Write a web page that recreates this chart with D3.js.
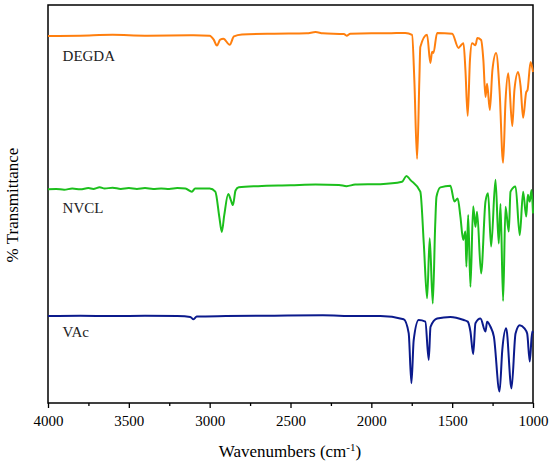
<!DOCTYPE html>
<html>
<head>
<meta charset="utf-8">
<script src="https://cdn.jsdelivr.net/npm/d3@7"></script>
<style>
  body { margin: 0; background: #fff; }
  text { font-family: "Liberation Serif", "DejaVu Serif", serif; }
</style>
</head>
<body>
<div id="chart"></div>
<script>
var margin = {top: 5, right: 17, bottom: 68, left: 48},
    width = 550 - margin.left - margin.right,
    height = 471 - margin.top - margin.bottom;

// spectra: [wavenumber, transmittance (arbitrary, offset)]
var degda = [[4000,92.9],[3800,93.0],[3600,93.2],[3400,93.0],[3100,93.1],[3000,93.0],[2975,92.0],[2955,90.5],[2935,92.0],[2915,92.2],[2876,90.7],[2850,92.8],[2800,93.3],[2600,93.5],[2400,93.6],[2345,93.9],[2300,93.6],[2170,93.4],[2153,93.0],[2130,93.5],[2000,93.6],[1900,93.6],[1790,93.7],[1748,93.2],[1734,81.8],[1717,61.8],[1703,81.8],[1697,90.1],[1655,93.2],[1635,86.1],[1624,88.9],[1616,88.6],[1593,93.7],[1500,93.5],[1461,89.9],[1449,90.4],[1430,91.1],[1418,84.3],[1404,72.7],[1390,86.8],[1377,91.1],[1356,90.6],[1344,92.4],[1321,91.9],[1307,86.8],[1294,77.5],[1284,80.8],[1267,74.2],[1251,84.3],[1228,88.6],[1207,79.2],[1185,60.8],[1170,76.5],[1153,83.5],[1128,70.1],[1115,79.2],[1092,83.8],[1077,80.3],[1061,72.2],[1042,78.7],[1034,79.2],[1015,86.3],[1000,83.8]];

var nvcl = [[4000,54.1],[3950,54.2],[3900,54.0],[3850,54.3],[3800,54.1],[3750,54.4],[3720,54.2],[3680,54.6],[3650,54.3],[3600,54.5],[3550,54.2],[3500,54.4],[3450,54.2],[3400,54.4],[3350,54.2],[3300,54.3],[3250,54.2],[3200,54.4],[3150,54.3],[3110,53.5],[3090,54.3],[3000,54.3],[2965,53.5],[2940,47.0],[2925,43.3],[2910,47.5],[2885,52.9],[2870,51.5],[2856,50.1],[2840,53.8],[2820,54.6],[2700,54.9],[2500,55.1],[2345,55.3],[2200,55.2],[2153,54.9],[2100,55.3],[1944,55.4],[1810,56.0],[1783,57.5],[1759,56.5],[1697,53.5],[1675,40.0],[1655,26.5],[1639,41.7],[1620,25.2],[1605,45.0],[1597,52.2],[1573,54.6],[1511,55.0],[1486,51.0],[1466,51.8],[1449,47.2],[1432,41.3],[1418,43.4],[1412,34.5],[1401,47.6],[1387,29.4],[1370,49.8],[1356,44.6],[1346,48.4],[1321,32.8],[1294,51.0],[1278,53.1],[1259,39.6],[1232,56.5],[1212,40.4],[1201,50.4],[1185,25.8],[1170,49.7],[1150,43.4],[1139,53.5],[1108,54.8],[1082,42.5],[1061,53.5],[1042,47.2],[1032,52.7],[1020,51.0],[1009,53.9],[1000,48.0]];

var vac = [[4000,22.0],[3800,22.1],[3600,22.0],[3400,22.1],[3200,22.0],[3120,21.8],[3100,21.2],[3080,21.9],[2900,22.0],[2600,22.1],[2300,22.2],[2100,22.0],[1944,22.0],[1800,21.2],[1769,17.7],[1752,5.0],[1738,15.9],[1707,21.0],[1666,20.6],[1645,10.9],[1634,19.3],[1593,21.4],[1511,21.8],[1428,21.0],[1404,20.6],[1387,18.1],[1370,12.4],[1356,20.2],[1325,21.4],[1294,18.1],[1284,20.6],[1263,19.3],[1242,16.8],[1207,2.9],[1190,13.4],[1166,18.9],[1133,3.7],[1108,17.6],[1082,19.7],[1053,18.9],[1036,17.6],[1020,10.5],[1005,18.1],[1000,17.7]];

var series = [
  {name: "DEGDA", data: degda, color: "#ff7f0e", label: [3910, 86.5]},
  {name: "NVCL", data: nvcl, color: "#1cbf1c", label: [3910, 48.2]},
  {name: "VAc", data: vac, color: "#0b1a8c", label: [3910, 16.6]}
];
var majorTicks = [4000, 3500, 3000, 2500, 2000, 1500, 1000];
var minorTicks = [3750, 3250, 2750, 2250, 1750, 1250];

var svg = d3.select("#chart")
  .append("svg")
    .attr("width", width + margin.left + margin.right)
    .attr("height", height + margin.top + margin.bottom)
  .append("g")
    .attr("transform", "translate(" + margin.left + "," + margin.top + ")");

var x = d3.scaleLinear().domain([4000, 1000]).range([0, 485]);
var y = d3.scaleLinear().domain([0, 100]).range([398, 3]);

// frame
svg.append("rect")
  .attr("x", 0).attr("y", 0)
  .attr("width", 485).attr("height", 398)
  .attr("fill", "none").attr("stroke", "#000").attr("stroke-width", 1.5);

// x axis
var xAxis = svg.append("g")
  .attr("transform", "translate(0,398)")
  .call(d3.axisBottom(x).tickValues(majorTicks).tickSize(5).tickFormat(d3.format("d")));
xAxis.select(".domain").remove();
xAxis.selectAll("text").attr("font-size", 15).attr("dy", "1.0em")
  .style("font-family", "'Liberation Serif', serif");
svg.append("g")
  .attr("transform", "translate(0,398)")
  .call(d3.axisBottom(x).tickValues(minorTicks).tickSize(3).tickFormat(""))
  .select(".domain").remove();
svg.selectAll(".tick line").attr("stroke-width", 1.3);

var line = d3.line()
  .x(function (d) { return x(d[0]) })
  .y(function (d) { return y(d[1]) })
  .curve(d3.curveMonotoneX);

series.forEach(function (s) {
  svg.append("path")
    .attr("fill", "none")
    .attr("stroke", s.color)
    .attr("stroke-width", 2)
    .attr("stroke-linejoin", "round")
    .attr("d", line(s.data));
  svg.append("text")
    .attr("x", x(s.label[0])).attr("y", y(s.label[1]))
    .attr("font-size", 15)
    .attr("fill", "#222")
    .text(s.name);
});

// axis titles
svg.append("text")
  .attr("x", 242).attr("y", 452)
  .attr("text-anchor", "middle").attr("font-size", 17)
  .html("Wavenumbers (cm<tspan dy='-6' font-size='11'>-1</tspan><tspan dy='6'>)</tspan>");
svg.append("text")
  .attr("transform", "translate(-30,200) rotate(-90)")
  .attr("text-anchor", "middle").attr("font-size", 17)
  .text("% Transmittance");
</script>
</body>
</html>
